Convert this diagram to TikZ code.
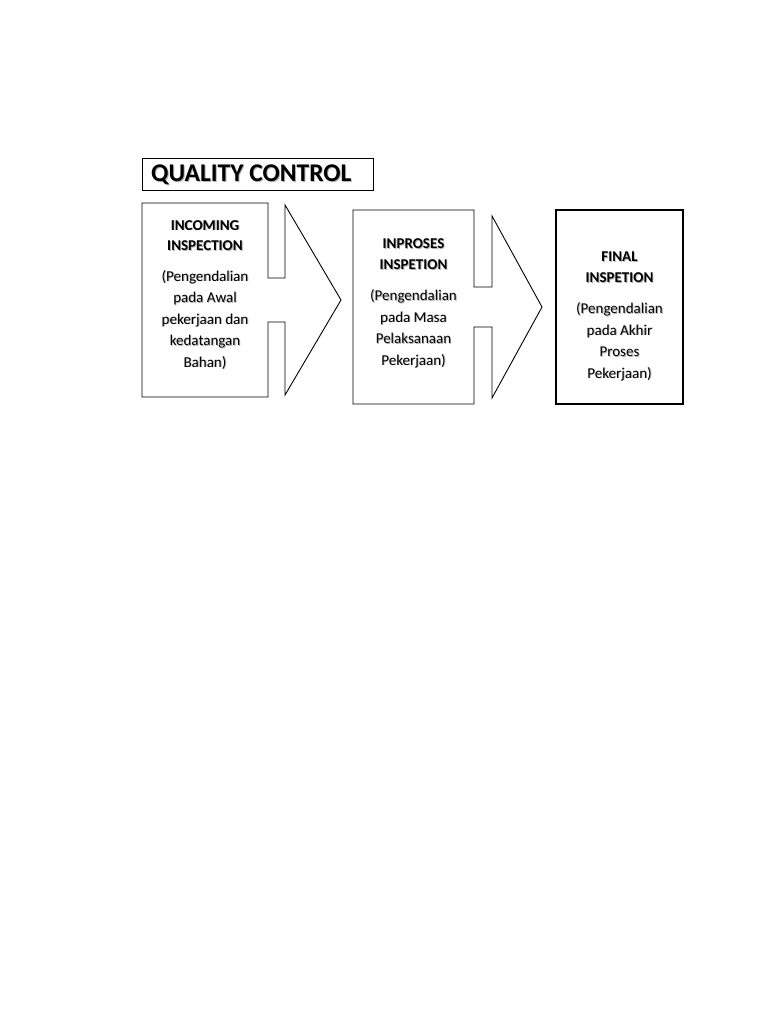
\documentclass[tikz,border=0pt]{standalone}
\usepackage{fontspec}
\setmainfont{Carlito}
\newcommand\shtext[1]{\makebox[0pt][l]{\hspace{0.9pt}\raisebox{-0.9pt}{\textcolor{black!30}{#1}}}#1}
\begin{document}
\begin{tikzpicture}[x=1pt,y=-1pt,
  outline/.style={draw=black,line width=0.9pt,line join=miter},
  heavy/.style={draw=black,line width=1.4pt},
  head/.style={font=\bfseries\fontsize{15}{20.8}\selectfont,anchor=base,inner sep=0pt},
  body/.style={font=\fontsize{15}{21.5}\selectfont,anchor=base,inner sep=0pt},
  titletext/.style={font=\bfseries\fontsize{25.5}{28}\selectfont,anchor=base west,inner sep=0pt}]
\useasboundingbox[fill=white] (0,0) rectangle (768,1024);
% title
\draw[outline] (142,158) rectangle (373,190);
\node[titletext] (title) at (151,182) {\shtext{QUALITY CONTROL}};
% box 1 with arrow
\draw[outline] (142,203) -- (268,203) -- (268,278) -- (285,278) -- (285,205)
  -- (341,300) -- (285,395) -- (285,322) -- (268,322) -- (268,397) -- (142,397) -- cycle;
\node[head] (h1a) at (205,230) {\shtext{INCOMING}};
\node[head] (h1b) at (205,250.7) {\shtext{INSPECTION}};
\node[body] (b1a) at (205,281) {\shtext{(Pengendalian}};
\node[body] (b1b) at (205,302.5) {\shtext{pada Awal}};
\node[body] (b1c) at (205,324) {\shtext{pekerjaan dan}};
\node[body] (b1d) at (205,345.5) {\shtext{kedatangan}};
\node[body] (b1e) at (205,367) {\shtext{Bahan)}};
% box 2 with arrow
\draw[outline] (353,210) -- (474,210) -- (474,287) -- (492,287) -- (492,216)
  -- (542,307) -- (492,398) -- (492,327) -- (474,327) -- (474,404) -- (353,404) -- cycle;
\node[head] (h2a) at (413.5,248.5) {\shtext{INPROSES}};
\node[head] (h2b) at (413.5,269.5) {\shtext{INSPETION}};
\node[body] (b2a) at (413.5,300.5) {\shtext{(Pengendalian}};
\node[body] (b2b) at (413.5,322) {\shtext{pada Masa}};
\node[body] (b2c) at (413.5,343.5) {\shtext{Pelaksanaan}};
\node[body] (b2d) at (413.5,365) {\shtext{Pekerjaan)}};
% box 3
\draw[heavy] (556,210) rectangle (683,404);
\node[head] (h3a) at (619.5,261.5) {\shtext{FINAL}};
\node[head] (h3b) at (619.5,282.5) {\shtext{INSPETION}};
\node[body] (b3a) at (619.5,313.5) {\shtext{(Pengendalian}};
\node[body] (b3b) at (619.5,335) {\shtext{pada Akhir}};
\node[body] (b3c) at (619.5,356.5) {\shtext{Proses}};
\node[body] (b3d) at (619.5,378) {\shtext{Pekerjaan)}};
\end{tikzpicture}
\end{document}
